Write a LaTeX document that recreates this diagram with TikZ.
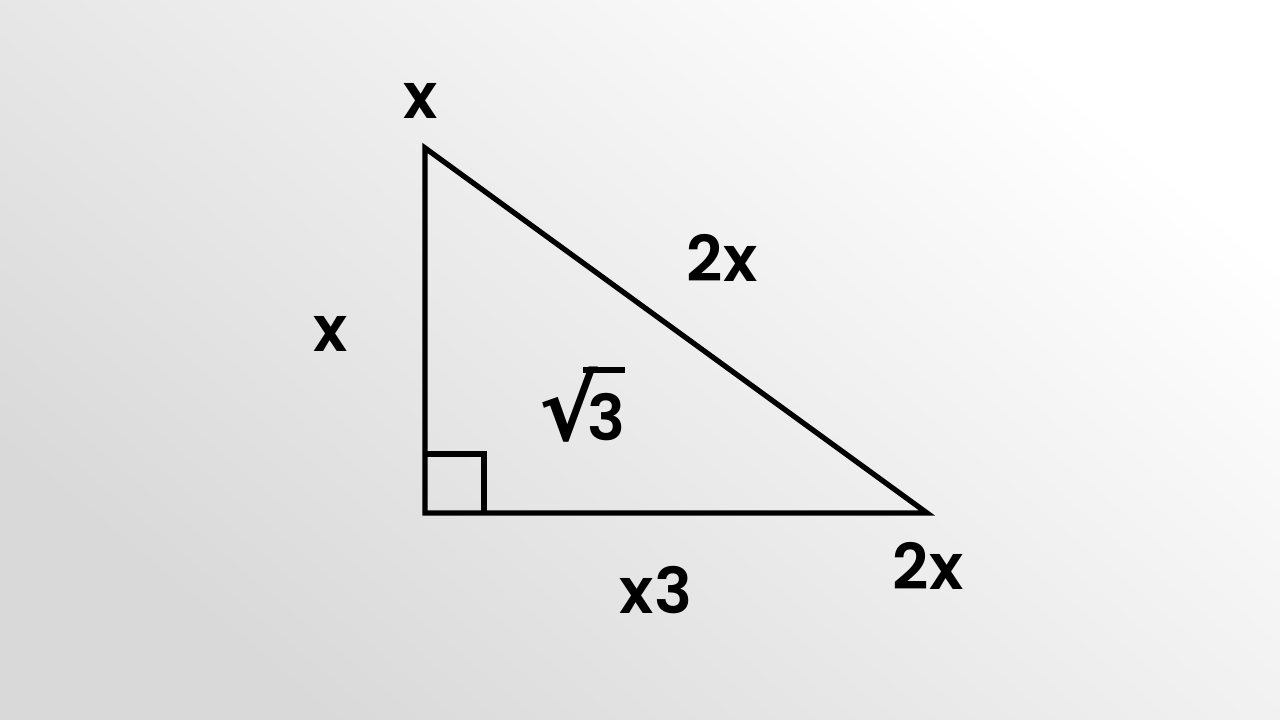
\documentclass[tikz,border=0pt]{standalone}
\usepackage{fontspec}
\setmainfont{Poppins}[BoldFont={* SemiBold}]
\newfontfamily\symfont{DejaVu Sans}
\usepackage{tikz}
\usetikzlibrary{positioning}
\tikzset{%
    lbl/.style={%
        font=\fontsize{18}{20}\selectfont\bfseries, text=black, inner sep=1pt
    },
    side/.style={%
        line width=1.5pt, line join=miter, draw=black
    }
}

\begin{document}
\begin{tikzpicture}
    \shade[top color=white, bottom color=black!15, shading angle=-40]
        (0,0) rectangle (12.8,7.2);
    \useasboundingbox (0,0) rectangle (12.8,7.2);

    \coordinate (top) at (4.25,5.72);
    \coordinate (corner) at (4.25,2.07);
    \coordinate (tip) at (9.27,2.07);

    \draw[side] (top) -- (corner) -- (tip) -- cycle;
    \draw[side] (4.25,2.66) -- (4.84,2.66) -- (4.84,2.07);

    \node[lbl] (xtop) at (4.21,6.19) {x};
    \node[lbl] (xleft) at (3.31,3.86) {x};
    \node[lbl] (hyp) at (7.22,4.62) {2x};
    \node[lbl] (root) at (5.82,3.15)
        {{\symfont\fontsize{25}{25}\selectfont √}\kern-4.2pt\rlap{\rule[19.2pt]{12pt}{1.7pt}}\kern1.2pt 3};
    \node[lbl] (base) at (6.56,1.30) {x3};
    \node[lbl] (tiplbl) at (9.28,1.54) {2x};
\end{tikzpicture}
\end{document}
